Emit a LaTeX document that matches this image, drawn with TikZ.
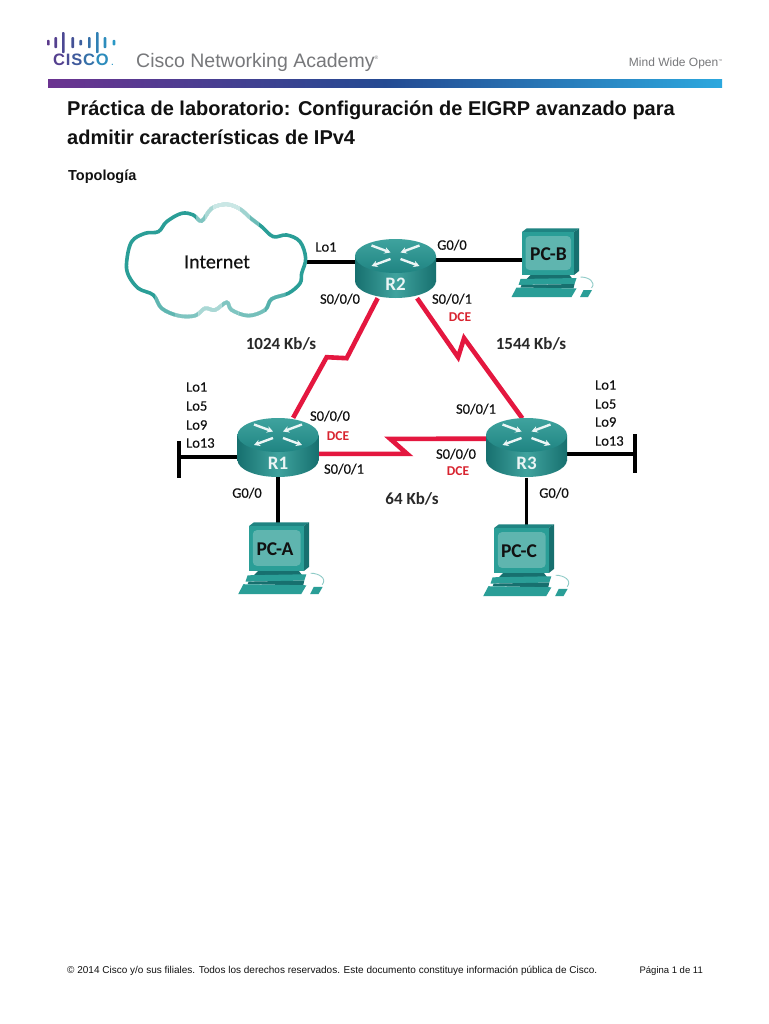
\documentclass[tikz,border=0pt]{standalone}
\usepackage{fontspec}
\setmainfont{Liberation Sans}
\newfontfamily\calfont{Carlito}
\newfontfamily\callbl[FakeBold=0.3]{Carlito}
\usetikzlibrary{arrows.meta,shapes.geometric}
\pgfdeclarelayer{bg}
\pgfsetlayers{bg,main}
\definecolor{tealA}{HTML}{17706F}
\definecolor{tealB}{HTML}{3FA39E}
\definecolor{tealC}{HTML}{1F8482}
\definecolor{tealD}{HTML}{5FB5AF}
\definecolor{tealE}{HTML}{2A9E97}
\definecolor{serialred}{HTML}{E4173F}
\definecolor{dcered}{HTML}{D8232F}
\definecolor{greytxt}{HTML}{77787B}
\definecolor{inkblack}{HTML}{111111}
\tikzset{
  lbl/.style={font=\callbl\fontsize{14.5}{15}\selectfont,text=inkblack,inner sep=0pt},
  dce/.style={font=\calfont\bfseries\fontsize{13.5}{14}\selectfont,text=dcered,inner sep=0pt},
  rate/.style={font=\calfont\bfseries\fontsize{17}{18}\selectfont,text=inkblack!90,inner sep=0pt},
  eth/.style={draw=black,line width=3.8pt},
  bus/.style={draw=black,line width=4.2pt},
  serial/.style={draw=serialred,line width=4.6pt,line join=miter},
  rbox/.style={rectangle,minimum width=80pt,minimum height=59pt,inner sep=0pt},
  pcbox/.style={rectangle,minimum width=53pt,minimum height=43pt,inner sep=0pt,
     font=\calfont\bfseries\fontsize{19.5}{20}\selectfont,text=inkblack},
  rarrow/.style={draw=white!92!teal,line width=2.4pt,-{Stealth[length=6pt,width=6.5pt]}}
}
% router drawing: centre of the top face at #1,#2
\newcommand{\routerart}[3]{%
  \begin{scope}[shift={(#1,#2)}]
    \shade[left color=tealA,right color=tealA,middle color=tealB] (-40.5,0) rectangle (40.5,25);
    \shade[left color=tealA,right color=tealA,middle color=tealB] (0,25) ellipse [x radius=40.5pt,y radius=17pt];
    \shade[top color=tealB,bottom color=tealC] (0,0) ellipse [x radius=40.5pt,y radius=17pt];
    \draw[rarrow] (-24,-10.5) -- (-5,-3.5);
    \draw[rarrow] (24,-10.5) -- (5,-3.5);
    \draw[rarrow] (-5,3) -- (-24,10);
    \draw[rarrow] (5,3) -- (24,10);
    \node[inner sep=0pt,font=\calfont\bfseries\fontsize{19}{20}\selectfont,text=white!92!teal] at (0,28) {#3};
  \end{scope}}
% PC drawing around the screen centre
\newcommand{\pcart}[3]{%
  \begin{scope}[shift={(#1,#2)},scale=#3]
    \fill[tealC] (-26.5,-21) -- (-22,-24.5) -- (30.5,-24.5) -- (25.5,-21) -- cycle;
    \fill[tealA] (25.5,-21) -- (30.5,-24.5) -- (30.5,18) -- (25.5,22) -- cycle;
    \fill[tealE] (-26.5,-21) rectangle (25.5,22);
    \fill[tealD,rounded corners=4pt] (-23,-17) rectangle (22.5,17);
    \fill[tealA] (-18,22) -- (21,22) -- (24,26) -- (-22,26) -- cycle;
    \fill[tealE] (-28,26) -- (28,25) -- (26,31) -- (-30,32) -- cycle;
    \fill[tealA] (-27,32) -- (26,31) -- (25,35.5) -- (-28,34.5) -- cycle;
    \fill[tealE] (-32,34.5) -- (28,35.5) -- (23,44) -- (-37,44) -- cycle;
    \fill[tealE] (35,37) -- (43.5,37) -- (39.5,44) -- (31.5,44) -- cycle;
    \draw[tealD!70,line width=.9pt] (43,35) .. controls (48,29) and (40,24) .. (32,24);
  \end{scope}}
\newcommand{\cloudpts}{(5,200) (20,140) (60,115) (100,110) (125,80) (170,55) (205,60) (230,78)
 (260,40) (305,28) (345,42) (375,68) (410,95) (445,125) (485,120) (525,140) (542,190)
 (530,235) (525,265) (490,295) (440,312) (420,345) (370,362) (320,345) (305,322) (270,345)
 (240,340) (210,362) (160,362) (110,340) (85,300) (40,280) (10,240)}
\begin{document}
\begin{tikzpicture}[x=1pt,y=-1pt]
\useasboundingbox (0,0) rectangle (768,1024);
% header
\foreach \x/\h/\c in {48.3/2.8/5B3A8C,55.7/5.5/54408F,63.3/10.5/4C4893,72.7/5.5/445196,80.7/2.8/3C5F9E,89.3/5.5/3570A8,97.3/10.5/3080B4,105/5.5/2C8CBC,114/2.8/2A98C6}{
  \definecolor{barc}{HTML}{\c}
  \fill[barc,rounded corners=.8pt] (\x-1.3,42.7-\h) rectangle (\x+1.3,42.7+\h);
}
\node[inner sep=0pt,anchor=west] (ciscoC) at (53,60) {\bfseries\fontsize{16.5}{17}\selectfont\color[HTML]{54408F}C\kern.8pt\color[HTML]{4A4C95}I\kern.8pt\color[HTML]{3F5A9C}S\kern.8pt\color[HTML]{3570A8}C\kern.8pt\color[HTML]{2C8CBC}O\,\color[HTML]{2A98C6}\fontsize{8}{8}\selectfont.};
\node[inner sep=0pt,anchor=base west,text=greytxt,font=\fontsize{19.5}{20}\selectfont] (cna) at (136,67.5) {Cisco Networking Academy\textsuperscript{\fontsize{5}{5}\selectfont®}};
\node[inner sep=0pt,anchor=base east,text=greytxt,font=\fontsize{12}{13}\selectfont] (mwo) at (723,67) {Mind Wide Open\textsuperscript{\fontsize{4}{4}\selectfont™}};
\shade[left color={rgb,255:red,107;green,51;blue,144},right color={rgb,255:red,36;green,74;blue,146}] (48,80) rectangle (385,88);
\shade[left color={rgb,255:red,36;green,74;blue,146},right color={rgb,255:red,44;green,168;blue,222}] (385,80) rectangle (722,88);
\node[inner sep=0pt,anchor=base west,font=\bfseries\fontsize{20}{22}\selectfont,text=inkblack] (title1) at (67,116) {Práctica de laboratorio: Configuración de EIGRP avanzado para};
\node[inner sep=0pt,anchor=base west,font=\bfseries\fontsize{20}{22}\selectfont,text=inkblack] (title2) at (67,145) {admitir características de IPv4};
\node[inner sep=0pt,anchor=base west,font=\bfseries\fontsize{14.5}{15}\selectfont,text=inkblack] (topo) at (68,180.5) {Topología};
% cloud
\begin{scope}[shift={(125,195)},x=.33333pt,y=-.33333pt]
  \draw[tealE,line width=3.6pt] plot[smooth cycle,tension=.6] coordinates {\cloudpts};
  \foreach \a/\b/\m in {215/240/40,240/265/60,265/345/75,345/375/55,375/400/30}{
    \begin{scope}
      \clip (\a,0) rectangle (\b,110);
      \draw[draw=white,line width=3.6pt] plot[smooth cycle,tension=.6] coordinates {\cloudpts};
      \pgfmathsetmacro{\pp}{100-\m}
      \draw[tealE!\pp!white,line width=3.6pt] plot[smooth cycle,tension=.6] coordinates {\cloudpts};
    \end{scope}}
  \foreach \a/\b/\m in {90/150/25,150/220/40,220/290/60,290/340/40,340/420/35,420/480/20}{
    \begin{scope}
      \clip (\a,280) rectangle (\b,390);
      \draw[draw=white,line width=3.6pt] plot[smooth cycle,tension=.6] coordinates {\cloudpts};
      \pgfmathsetmacro{\pp}{100-\m}
      \draw[tealE!\pp!white,line width=3.6pt] plot[smooth cycle,tension=.6] coordinates {\cloudpts};
    \end{scope}}
\end{scope}
\node[inner sep=0pt,minimum width=180pt,minimum height=114pt,font=\callbl\fontsize{20}{22}\selectfont,text=inkblack] (cloud) at (217,262) {Internet};
% devices
\pcart{548.5}{253}{1}
\pcart{277}{548}{1.05}
\pcart{522}{550}{1.05}
\node[pcbox] (PCB) at (548.5,254) {PC-B};
\node[pcbox] (PCA) at (275,549) {PC-A};
\node[pcbox] (PCC) at (519,551) {PC-C};
\routerart{395.5}{256}{R2}
\routerart{278}{435}{R1}
\routerart{526.5}{435}{R3}
\node[rbox] (R2) at (395.5,268.5) {};
\node[rbox] (R1) at (278,447.5) {};
\node[rbox] (R3) at (526.5,448) {};
\coordinate (busL) at (179,457);
\coordinate (busR) at (635,454);
\coordinate (busLa) at (179,441);
\coordinate (busLb) at (179,478);
\coordinate (busRa) at (635,434);
\coordinate (busRb) at (635,473);
% connectors
\begin{pgfonlayer}{bg}
  \fill[white] (0,0) rectangle (768,1024);
  \draw[eth] (R2.171 -| cloud.east) -- (R2.171);
  \draw[eth] (R2.12) -- (R2.12 -| PCB.west);
  \draw[eth] (R1.west |- busL) -- (busL);
  \draw[eth] (R3.east |- busR) -- (busR);
  \draw[eth] (R1.south) -- (R1.south |- PCA.north);
  \draw[eth] (R3.south) -- (R3.south |- PCC.north);
  \draw[bus] (busLa) -- (busLb);
  \draw[bus] (busRa) -- (busRb);
  \draw[serial] (R2.239) -- ++(-31,60) -- ++(-20,-1) -- (R1.63);
  \draw[serial] (R2.-54) -- ++(41,59) -- ++(6,-19) -- (R3.98.5);
  \draw[serial] (R1.-9) -- ++(89,0) -- ++(-17,-15) -- (R3.167.5);
\end{pgfonlayer}
% labels
\node[lbl] (l1) at (326,247) {Lo1};
\node[lbl] (l2) at (452,245) {G0/0};
\node[lbl] (l3) at (340,299) {S0/0/0};
\node[lbl] (l4) at (452,299) {S0/0/1};
\node[dce] (l5) at (460,317) {DCE};
\node[rate] (l6) at (281,344) {1024 Kb/s};
\node[rate] (l7) at (531,344) {1544 Kb/s};
\node[lbl,anchor=west] (l8) at (186,387) {Lo1};
\node[lbl,anchor=west] (l9) at (186,406) {Lo5};
\node[lbl,anchor=west] (l10) at (186,425) {Lo9};
\node[lbl,anchor=west] (l11) at (186,443) {Lo13};
\node[lbl,anchor=west] (l12) at (595,385) {Lo1};
\node[lbl,anchor=west] (l13) at (595,404) {Lo5};
\node[lbl,anchor=west] (l14) at (595,422) {Lo9};
\node[lbl,anchor=west] (l15) at (595,441) {Lo13};
\node[lbl] (l16) at (330,416) {S0/0/0};
\node[dce] (l17) at (338,436) {DCE};
\node[lbl] (l18) at (344,469) {S0/0/1};
\node[lbl] (l19) at (247,493) {G0/0};
\node[lbl] (l20) at (476,409) {S0/0/1};
\node[lbl] (l21) at (456,454) {S0/0/0};
\node[dce] (l22) at (458,471) {DCE};
\node[lbl] (l23) at (554,493) {G0/0};
\node[rate] (l24) at (412,499) {64 Kb/s};
% footer
\node[inner sep=0pt,anchor=west,font=\fontsize{10}{11}\selectfont,text=inkblack] (foot) at (67,971) {© 2014 Cisco y/o sus filiales. Todos los derechos reservados. Este documento constituye información pública de Cisco.};
\node[inner sep=0pt,anchor=east,font=\fontsize{9.5}{11}\selectfont,text=inkblack] (page) at (703,971) {Página 1 de 11};
\end{tikzpicture}
\end{document}
